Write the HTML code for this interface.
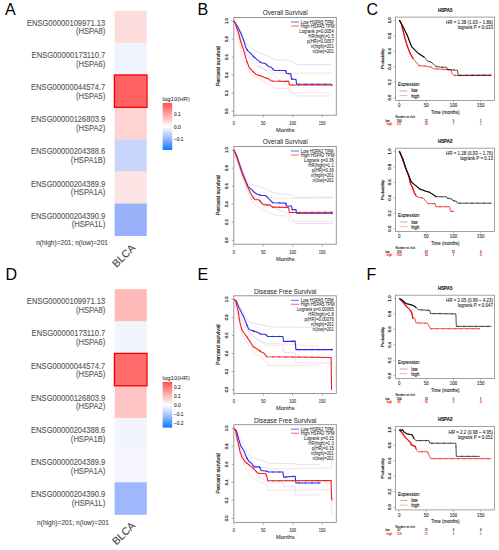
<!DOCTYPE html>
<html><head><meta charset="utf-8"><style>
html,body{margin:0;padding:0;background:#fff;width:499px;height:550px;overflow:hidden}
svg{display:block}
text{font-family:"Liberation Sans", sans-serif}
</style></head><body>
<svg width="499" height="550" viewBox="0 0 499 550">
<rect width="499" height="550" fill="#fff"/>
<text x="0" y="0" transform="translate(5.00,15.20) scale(0.1000,0.1)" font-size="160.00" fill="#000" text-anchor="start" font-weight="normal"  >A</text>
<text x="0" y="0" transform="translate(197.50,14.80) scale(0.1000,0.1)" font-size="160.00" fill="#000" text-anchor="start" font-weight="normal"  >B</text>
<text x="0" y="0" transform="translate(366.50,14.80) scale(0.1000,0.1)" font-size="160.00" fill="#000" text-anchor="start" font-weight="normal"  >C</text>
<text x="0" y="0" transform="translate(5.50,279.70) scale(0.1000,0.1)" font-size="160.00" fill="#000" text-anchor="start" font-weight="normal"  >D</text>
<text x="0" y="0" transform="translate(197.50,279.80) scale(0.1000,0.1)" font-size="160.00" fill="#000" text-anchor="start" font-weight="normal"  >E</text>
<text x="0" y="0" transform="translate(366.50,279.80) scale(0.1000,0.1)" font-size="160.00" fill="#000" text-anchor="start" font-weight="normal"  >F</text>
<rect x="114.6" y="10.80" width="32.20" height="32.44" fill="#fedcdc"/>
<rect x="114.6" y="42.94" width="32.20" height="32.44" fill="#eff3fe"/>
<rect x="114.6" y="75.08" width="32.20" height="32.44" fill="#ff6262"/>
<rect x="114.6" y="107.22" width="32.20" height="32.44" fill="#fdd3d3"/>
<rect x="114.6" y="139.36" width="32.20" height="32.44" fill="#c9d6fb"/>
<rect x="114.6" y="171.50" width="32.20" height="32.44" fill="#fde4e4"/>
<rect x="114.6" y="203.64" width="32.20" height="32.44" fill="#98b1f8"/>
<rect x="114.40" y="74.98" width="32.60" height="32.34" fill="none" stroke="#f00000" stroke-width="1.3"/>
<text x="0" y="0" transform="translate(105.30,25.87) scale(0.0927,0.1)" font-size="82.00" fill="#555" text-anchor="end" font-weight="normal" stroke="#555" stroke-width="1.000" >ENSG00000109971.13</text>
<text x="0" y="0" transform="translate(105.30,34.47) scale(0.0927,0.1)" font-size="82.00" fill="#555" text-anchor="end" font-weight="normal" stroke="#555" stroke-width="1.000" >(HSPA8)</text>
<text x="0" y="0" transform="translate(105.30,58.01) scale(0.0927,0.1)" font-size="82.00" fill="#555" text-anchor="end" font-weight="normal" stroke="#555" stroke-width="1.000" >ENSG00000173110.7</text>
<text x="0" y="0" transform="translate(105.30,66.61) scale(0.0927,0.1)" font-size="82.00" fill="#555" text-anchor="end" font-weight="normal" stroke="#555" stroke-width="1.000" >(HSPA6)</text>
<text x="0" y="0" transform="translate(105.30,90.15) scale(0.0927,0.1)" font-size="82.00" fill="#555" text-anchor="end" font-weight="normal" stroke="#555" stroke-width="1.000" >ENSG00000044574.7</text>
<text x="0" y="0" transform="translate(105.30,98.75) scale(0.0927,0.1)" font-size="82.00" fill="#555" text-anchor="end" font-weight="normal" stroke="#555" stroke-width="1.000" >(HSPA5)</text>
<text x="0" y="0" transform="translate(105.30,122.29) scale(0.0927,0.1)" font-size="82.00" fill="#555" text-anchor="end" font-weight="normal" stroke="#555" stroke-width="1.000" >ENSG00000126803.9</text>
<text x="0" y="0" transform="translate(105.30,130.89) scale(0.0927,0.1)" font-size="82.00" fill="#555" text-anchor="end" font-weight="normal" stroke="#555" stroke-width="1.000" >(HSPA2)</text>
<text x="0" y="0" transform="translate(105.30,154.43) scale(0.0927,0.1)" font-size="82.00" fill="#555" text-anchor="end" font-weight="normal" stroke="#555" stroke-width="1.000" >ENSG00000204388.6</text>
<text x="0" y="0" transform="translate(105.30,163.03) scale(0.0927,0.1)" font-size="82.00" fill="#555" text-anchor="end" font-weight="normal" stroke="#555" stroke-width="1.000" >(HSPA1B)</text>
<text x="0" y="0" transform="translate(105.30,186.57) scale(0.0927,0.1)" font-size="82.00" fill="#555" text-anchor="end" font-weight="normal" stroke="#555" stroke-width="1.000" >ENSG00000204389.9</text>
<text x="0" y="0" transform="translate(105.30,195.17) scale(0.0927,0.1)" font-size="82.00" fill="#555" text-anchor="end" font-weight="normal" stroke="#555" stroke-width="1.000" >(HSPA1A)</text>
<text x="0" y="0" transform="translate(105.30,218.71) scale(0.0927,0.1)" font-size="82.00" fill="#555" text-anchor="end" font-weight="normal" stroke="#555" stroke-width="1.000" >ENSG00000204390.9</text>
<text x="0" y="0" transform="translate(105.30,227.31) scale(0.0927,0.1)" font-size="82.00" fill="#555" text-anchor="end" font-weight="normal" stroke="#555" stroke-width="1.000" >(HSPA1L)</text>
<text x="0" y="0" transform="translate(108.00,245.40) scale(0.1000,0.1)" font-size="66.00" fill="#444" text-anchor="end" font-weight="normal" stroke="#444" stroke-width="0.800" >n(high)=201; n(low)=201</text>
<text x="0" y="0" font-size="105.00" fill="#444" stroke="#444" stroke-width="1.000" text-anchor="start" transform="translate(116.50,268.00) rotate(-45) scale(0.1)">BLCA</text>
<defs><linearGradient id="g10" x1="0" y1="0" x2="0" y2="1"><stop offset="0" stop-color="#ff5252"/><stop offset="0.25" stop-color="#ffa8a8"/><stop offset="0.5" stop-color="#ffffff"/><stop offset="0.75" stop-color="#9dbcff"/><stop offset="1" stop-color="#0a78ff"/></linearGradient></defs>
<rect x="162.6" y="102.90" width="9.6" height="47.10" fill="url(#g10)"/>
<text x="0" y="0" transform="translate(162.60,101.30) scale(0.1000,0.1)" font-size="60.00" fill="#333" text-anchor="start" font-weight="normal" stroke="#333" stroke-width="0.500" >log10(HR)</text>
<text x="0" y="0" transform="translate(174.00,115.90) scale(0.1000,0.1)" font-size="48.00" fill="#333" text-anchor="start" font-weight="normal" stroke="#333" stroke-width="1.000" >0.1</text>
<text x="0" y="0" transform="translate(174.00,128.90) scale(0.1000,0.1)" font-size="48.00" fill="#333" text-anchor="start" font-weight="normal" stroke="#333" stroke-width="1.000" >0.0</text>
<text x="0" y="0" transform="translate(174.00,140.70) scale(0.1000,0.1)" font-size="48.00" fill="#333" text-anchor="start" font-weight="normal" stroke="#333" stroke-width="1.000" >−0.1</text>
<rect x="114.6" y="289.10" width="32.20" height="32.50" fill="#ffbaba"/>
<rect x="114.6" y="321.30" width="32.20" height="32.50" fill="#f2f4fe"/>
<rect x="114.6" y="353.50" width="32.20" height="32.50" fill="#ff6a6a"/>
<rect x="114.6" y="385.70" width="32.20" height="32.50" fill="#ffc5c5"/>
<rect x="114.6" y="417.90" width="32.20" height="32.50" fill="#f2f4fe"/>
<rect x="114.6" y="450.10" width="32.20" height="32.50" fill="#f4f5fe"/>
<rect x="114.6" y="482.30" width="32.20" height="32.50" fill="#9fb7fc"/>
<rect x="114.40" y="353.40" width="32.60" height="32.40" fill="none" stroke="#f00000" stroke-width="1.3"/>
<text x="0" y="0" transform="translate(105.30,304.20) scale(0.0927,0.1)" font-size="82.00" fill="#555" text-anchor="end" font-weight="normal" stroke="#555" stroke-width="1.000" >ENSG00000109971.13</text>
<text x="0" y="0" transform="translate(105.30,312.80) scale(0.0927,0.1)" font-size="82.00" fill="#555" text-anchor="end" font-weight="normal" stroke="#555" stroke-width="1.000" >(HSPA8)</text>
<text x="0" y="0" transform="translate(105.30,336.40) scale(0.0927,0.1)" font-size="82.00" fill="#555" text-anchor="end" font-weight="normal" stroke="#555" stroke-width="1.000" >ENSG00000173110.7</text>
<text x="0" y="0" transform="translate(105.30,345.00) scale(0.0927,0.1)" font-size="82.00" fill="#555" text-anchor="end" font-weight="normal" stroke="#555" stroke-width="1.000" >(HSPA6)</text>
<text x="0" y="0" transform="translate(105.30,368.60) scale(0.0927,0.1)" font-size="82.00" fill="#555" text-anchor="end" font-weight="normal" stroke="#555" stroke-width="1.000" >ENSG00000044574.7</text>
<text x="0" y="0" transform="translate(105.30,377.20) scale(0.0927,0.1)" font-size="82.00" fill="#555" text-anchor="end" font-weight="normal" stroke="#555" stroke-width="1.000" >(HSPA5)</text>
<text x="0" y="0" transform="translate(105.30,400.80) scale(0.0927,0.1)" font-size="82.00" fill="#555" text-anchor="end" font-weight="normal" stroke="#555" stroke-width="1.000" >ENSG00000126803.9</text>
<text x="0" y="0" transform="translate(105.30,409.40) scale(0.0927,0.1)" font-size="82.00" fill="#555" text-anchor="end" font-weight="normal" stroke="#555" stroke-width="1.000" >(HSPA2)</text>
<text x="0" y="0" transform="translate(105.30,433.00) scale(0.0927,0.1)" font-size="82.00" fill="#555" text-anchor="end" font-weight="normal" stroke="#555" stroke-width="1.000" >ENSG00000204388.6</text>
<text x="0" y="0" transform="translate(105.30,441.60) scale(0.0927,0.1)" font-size="82.00" fill="#555" text-anchor="end" font-weight="normal" stroke="#555" stroke-width="1.000" >(HSPA1B)</text>
<text x="0" y="0" transform="translate(105.30,465.20) scale(0.0927,0.1)" font-size="82.00" fill="#555" text-anchor="end" font-weight="normal" stroke="#555" stroke-width="1.000" >ENSG00000204389.9</text>
<text x="0" y="0" transform="translate(105.30,473.80) scale(0.0927,0.1)" font-size="82.00" fill="#555" text-anchor="end" font-weight="normal" stroke="#555" stroke-width="1.000" >(HSPA1A)</text>
<text x="0" y="0" transform="translate(105.30,497.40) scale(0.0927,0.1)" font-size="82.00" fill="#555" text-anchor="end" font-weight="normal" stroke="#555" stroke-width="1.000" >ENSG00000204390.9</text>
<text x="0" y="0" transform="translate(105.30,506.00) scale(0.0927,0.1)" font-size="82.00" fill="#555" text-anchor="end" font-weight="normal" stroke="#555" stroke-width="1.000" >(HSPA1L)</text>
<text x="0" y="0" transform="translate(108.90,525.00) scale(0.1000,0.1)" font-size="66.00" fill="#444" text-anchor="end" font-weight="normal" stroke="#444" stroke-width="0.800" >n(high)=201; n(low)=201</text>
<text x="0" y="0" font-size="105.00" fill="#444" stroke="#444" stroke-width="1.000" text-anchor="start" transform="translate(116.50,545.60) rotate(-45) scale(0.1)">BLCA</text>
<defs><linearGradient id="g289" x1="0" y1="0" x2="0" y2="1"><stop offset="0" stop-color="#ff5252"/><stop offset="0.25" stop-color="#ffa8a8"/><stop offset="0.5" stop-color="#ffffff"/><stop offset="0.75" stop-color="#9dbcff"/><stop offset="1" stop-color="#0a78ff"/></linearGradient></defs>
<rect x="162.6" y="381.90" width="9.6" height="45.70" fill="url(#g289)"/>
<text x="0" y="0" transform="translate(162.60,380.30) scale(0.1000,0.1)" font-size="60.00" fill="#333" text-anchor="start" font-weight="normal" stroke="#333" stroke-width="0.500" >log10(HR)</text>
<text x="0" y="0" transform="translate(174.00,388.60) scale(0.1000,0.1)" font-size="48.00" fill="#333" text-anchor="start" font-weight="normal" stroke="#333" stroke-width="1.000" >0.2</text>
<text x="0" y="0" transform="translate(174.00,398.00) scale(0.1000,0.1)" font-size="48.00" fill="#333" text-anchor="start" font-weight="normal" stroke="#333" stroke-width="1.000" >0.1</text>
<text x="0" y="0" transform="translate(174.00,406.90) scale(0.1000,0.1)" font-size="48.00" fill="#333" text-anchor="start" font-weight="normal" stroke="#333" stroke-width="1.000" >0.0</text>
<text x="0" y="0" transform="translate(174.00,416.30) scale(0.1000,0.1)" font-size="48.00" fill="#333" text-anchor="start" font-weight="normal" stroke="#333" stroke-width="1.000" >−0.1</text>
<text x="0" y="0" transform="translate(174.00,425.20) scale(0.1000,0.1)" font-size="48.00" fill="#333" text-anchor="start" font-weight="normal" stroke="#333" stroke-width="1.000" >−0.2</text>
<rect x="233.8" y="17.50" width="102.50" height="97.70" fill="none" stroke="#8c8c8c" stroke-width="0.9"/>
<line x1="231.6" y1="111.20" x2="233.8" y2="111.20" stroke="#8c8c8c" stroke-width="0.7"/>
<text x="0" y="0" font-size="41.00" fill="#222" stroke="#222" stroke-width="1.800" text-anchor="middle" transform="translate(227.90,111.20) rotate(-90) scale(0.1)">0.0</text>
<line x1="231.6" y1="93.18" x2="233.8" y2="93.18" stroke="#8c8c8c" stroke-width="0.7"/>
<text x="0" y="0" font-size="41.00" fill="#222" stroke="#222" stroke-width="1.800" text-anchor="middle" transform="translate(227.90,93.18) rotate(-90) scale(0.1)">0.2</text>
<line x1="231.6" y1="75.16" x2="233.8" y2="75.16" stroke="#8c8c8c" stroke-width="0.7"/>
<text x="0" y="0" font-size="41.00" fill="#222" stroke="#222" stroke-width="1.800" text-anchor="middle" transform="translate(227.90,75.16) rotate(-90) scale(0.1)">0.4</text>
<line x1="231.6" y1="57.14" x2="233.8" y2="57.14" stroke="#8c8c8c" stroke-width="0.7"/>
<text x="0" y="0" font-size="41.00" fill="#222" stroke="#222" stroke-width="1.800" text-anchor="middle" transform="translate(227.90,57.14) rotate(-90) scale(0.1)">0.6</text>
<line x1="231.6" y1="39.12" x2="233.8" y2="39.12" stroke="#8c8c8c" stroke-width="0.7"/>
<text x="0" y="0" font-size="41.00" fill="#222" stroke="#222" stroke-width="1.800" text-anchor="middle" transform="translate(227.90,39.12) rotate(-90) scale(0.1)">0.8</text>
<line x1="231.6" y1="21.10" x2="233.8" y2="21.10" stroke="#8c8c8c" stroke-width="0.7"/>
<text x="0" y="0" font-size="41.00" fill="#222" stroke="#222" stroke-width="1.800" text-anchor="middle" transform="translate(227.90,21.10) rotate(-90) scale(0.1)">1.0</text>
<line x1="233.80" y1="115.20" x2="233.80" y2="117.40" stroke="#8c8c8c" stroke-width="0.7"/>
<text x="0" y="0" transform="translate(233.80,125.00) scale(0.0891,0.1)" font-size="46.00" fill="#333" text-anchor="middle" font-weight="normal" stroke="#333" stroke-width="0.800" >0</text>
<line x1="263.26" y1="115.20" x2="263.26" y2="117.40" stroke="#8c8c8c" stroke-width="0.7"/>
<text x="0" y="0" transform="translate(263.26,125.00) scale(0.0891,0.1)" font-size="46.00" fill="#333" text-anchor="middle" font-weight="normal" stroke="#333" stroke-width="0.800" >50</text>
<line x1="292.73" y1="115.20" x2="292.73" y2="117.40" stroke="#8c8c8c" stroke-width="0.7"/>
<text x="0" y="0" transform="translate(292.73,125.00) scale(0.0891,0.1)" font-size="46.00" fill="#333" text-anchor="middle" font-weight="normal" stroke="#333" stroke-width="0.800" >100</text>
<line x1="322.20" y1="115.20" x2="322.20" y2="117.40" stroke="#8c8c8c" stroke-width="0.7"/>
<text x="0" y="0" transform="translate(322.20,125.00) scale(0.0891,0.1)" font-size="46.00" fill="#333" text-anchor="middle" font-weight="normal" stroke="#333" stroke-width="0.800" >150</text>
<text x="0" y="0" transform="translate(285.30,131.80) scale(0.1000,0.1)" font-size="57.00" fill="#222" text-anchor="middle" font-weight="normal" stroke="#222" stroke-width="0.500" >Months</text>
<text x="0" y="0" font-size="57.00" fill="#111" stroke="#111" stroke-width="1.600" text-anchor="middle" transform="translate(220.40,66.35) rotate(-90) scale(0.1)">Percent survival</text>
<text x="0" y="0" transform="translate(285.20,15.30) scale(0.1000,0.1)" font-size="64.00" fill="#222" text-anchor="middle" font-weight="normal"  >Overall Survival</text>
<line x1="291" y1="22.00" x2="299" y2="22.00" stroke="#3c3cff" stroke-width="0.8"/>
<line x1="291" y1="26.00" x2="299" y2="26.00" stroke="#ff3c3c" stroke-width="0.8"/>
<text x="0" y="0" transform="translate(300.80,23.50) scale(0.0890,0.1)" font-size="48.00" fill="#111" text-anchor="start" font-weight="normal" stroke="#111" stroke-width="0.300" >Low HSPA5 TPM</text>
<text x="0" y="0" transform="translate(300.80,27.50) scale(0.0890,0.1)" font-size="48.00" fill="#111" text-anchor="start" font-weight="normal" stroke="#111" stroke-width="0.300" >High HSPA5 TPM</text>
<text x="0" y="0" transform="translate(333.80,33.00) scale(0.0890,0.1)" font-size="48.00" fill="#111" text-anchor="end" font-weight="normal" stroke="#111" stroke-width="0.300" >Logrank p=0.0054</text>
<text x="0" y="0" transform="translate(333.80,38.00) scale(0.0890,0.1)" font-size="48.00" fill="#111" text-anchor="end" font-weight="normal" stroke="#111" stroke-width="0.300" >HR(high)=1.5</text>
<text x="0" y="0" transform="translate(333.80,43.00) scale(0.0890,0.1)" font-size="48.00" fill="#111" text-anchor="end" font-weight="normal" stroke="#111" stroke-width="0.300" >p(HR)=0.0057</text>
<text x="0" y="0" transform="translate(333.80,48.00) scale(0.0890,0.1)" font-size="48.00" fill="#111" text-anchor="end" font-weight="normal" stroke="#111" stroke-width="0.300" >n(high)=201</text>
<text x="0" y="0" transform="translate(333.80,53.00) scale(0.0890,0.1)" font-size="48.00" fill="#111" text-anchor="end" font-weight="normal" stroke="#111" stroke-width="0.300" >n(low)=201</text>
<polyline points="233.75,20.64 239.27,27.18 243.64,37.36 246.55,44.64 253.82,49.73 261.09,53.36 268.36,56.27 275.64,59.91 287.18,60.27 293.00,61.73 296.64,64.64 330.82,64.64" fill="none" stroke="#ccccff" stroke-width="0.6" stroke-linejoin="miter" />
<polyline points="233.75,20.64 237.09,29.36 242.18,46.09 246.55,54.82 253.82,60.64 261.09,67.18 268.36,72.27 274.18,75.18 288.64,86.45 291.55,90.82 296.64,95.91 331.55,95.91" fill="none" stroke="#ccccff" stroke-width="0.6" stroke-linejoin="miter" />
<polyline points="233.75,20.64 237.82,28.64 242.18,43.18 246.55,54.82 250.91,60.64 255.27,65.73 261.09,67.91 268.36,70.09 275.64,73.00 291.55,73.07 331.55,73.07" fill="none" stroke="#ffcaca" stroke-width="0.6" stroke-linejoin="miter" />
<polyline points="233.75,20.64 237.82,35.91 242.18,56.27 246.55,66.45 252.36,75.18 261.09,79.55 268.36,83.91 275.64,88.27 288.64,88.64 289.36,93.00 331.55,93.00" fill="none" stroke="#ffcaca" stroke-width="0.6" stroke-linejoin="miter" />
<polyline points="233.75,20.64 237.82,27.18 240.73,33.00 243.64,40.27 245.82,47.55 248.00,51.18 250.91,53.36 253.82,57.00 257.45,59.91 261.09,62.82 265.45,63.55 268.36,66.45 271.27,67.18 274.18,70.53 285.73,70.45 286.45,73.36 290.82,74.09 291.55,79.18 295.91,79.18 296.64,84.27 331.55,84.27" fill="none" stroke="#2a2af0" stroke-width="1.1" stroke-linejoin="miter" />
<path d="M247.00 48.72v1.60 M246.20 49.52h1.60 M253.50 55.80v1.60 M252.70 56.60h1.60 M260.00 61.15v1.60 M259.20 61.95h1.60 M266.50 63.79v1.60 M265.70 64.59h1.60 M273.00 68.37v1.60 M272.20 69.17h1.60 M279.50 69.69v1.60 M278.70 70.49h1.60 M286.00 70.75v1.60 M285.20 71.55h1.60 M292.50 78.38v1.60 M291.70 79.18h1.60 M299.00 83.47v1.60 M298.20 84.27h1.60 M305.50 83.47v1.60 M304.70 84.27h1.60 M312.00 83.47v1.60 M311.20 84.27h1.60 M318.50 83.47v1.60 M317.70 84.27h1.60 M325.00 83.47v1.60 M324.20 84.27h1.60" stroke="#2a2af0" stroke-width="0.5" fill="none"/>
<polyline points="233.75,20.64 235.64,24.27 238.55,33.00 240.73,41.73 243.64,50.45 246.55,60.64 249.45,67.91 253.09,71.55 256.00,74.45 261.09,75.91 264.00,77.36 268.36,78.82 271.27,81.00 288.64,81.36 289.36,85.00 333.00,85.00" fill="none" stroke="#f02020" stroke-width="1.1" stroke-linejoin="miter" />
<path d="M247.00 60.97v1.60 M246.20 61.77h1.60 M253.50 71.15v1.60 M252.70 71.95h1.60 M260.00 74.80v1.60 M259.20 75.60h1.60 M266.50 77.40v1.60 M265.70 78.20h1.60 M273.00 80.24v1.60 M272.20 81.04h1.60 M279.50 80.37v1.60 M278.70 81.17h1.60 M286.00 80.51v1.60 M285.20 81.31h1.60 M292.50 84.20v1.60 M291.70 85.00h1.60 M299.00 84.20v1.60 M298.20 85.00h1.60 M305.50 84.20v1.60 M304.70 85.00h1.60 M312.00 84.20v1.60 M311.20 85.00h1.60 M318.50 84.20v1.60 M317.70 85.00h1.60 M325.00 84.20v1.60 M324.20 85.00h1.60 M331.50 84.20v1.60 M330.70 85.00h1.60" stroke="#f02020" stroke-width="0.5" fill="none"/>
<rect x="233.8" y="146.50" width="102.50" height="97.70" fill="none" stroke="#8c8c8c" stroke-width="0.9"/>
<line x1="231.6" y1="240.20" x2="233.8" y2="240.20" stroke="#8c8c8c" stroke-width="0.7"/>
<text x="0" y="0" font-size="41.00" fill="#222" stroke="#222" stroke-width="1.800" text-anchor="middle" transform="translate(227.90,240.20) rotate(-90) scale(0.1)">0.0</text>
<line x1="231.6" y1="222.18" x2="233.8" y2="222.18" stroke="#8c8c8c" stroke-width="0.7"/>
<text x="0" y="0" font-size="41.00" fill="#222" stroke="#222" stroke-width="1.800" text-anchor="middle" transform="translate(227.90,222.18) rotate(-90) scale(0.1)">0.2</text>
<line x1="231.6" y1="204.16" x2="233.8" y2="204.16" stroke="#8c8c8c" stroke-width="0.7"/>
<text x="0" y="0" font-size="41.00" fill="#222" stroke="#222" stroke-width="1.800" text-anchor="middle" transform="translate(227.90,204.16) rotate(-90) scale(0.1)">0.4</text>
<line x1="231.6" y1="186.14" x2="233.8" y2="186.14" stroke="#8c8c8c" stroke-width="0.7"/>
<text x="0" y="0" font-size="41.00" fill="#222" stroke="#222" stroke-width="1.800" text-anchor="middle" transform="translate(227.90,186.14) rotate(-90) scale(0.1)">0.6</text>
<line x1="231.6" y1="168.12" x2="233.8" y2="168.12" stroke="#8c8c8c" stroke-width="0.7"/>
<text x="0" y="0" font-size="41.00" fill="#222" stroke="#222" stroke-width="1.800" text-anchor="middle" transform="translate(227.90,168.12) rotate(-90) scale(0.1)">0.8</text>
<line x1="231.6" y1="150.10" x2="233.8" y2="150.10" stroke="#8c8c8c" stroke-width="0.7"/>
<text x="0" y="0" font-size="41.00" fill="#222" stroke="#222" stroke-width="1.800" text-anchor="middle" transform="translate(227.90,150.10) rotate(-90) scale(0.1)">1.0</text>
<line x1="233.80" y1="244.20" x2="233.80" y2="246.40" stroke="#8c8c8c" stroke-width="0.7"/>
<text x="0" y="0" transform="translate(233.80,254.00) scale(0.0891,0.1)" font-size="46.00" fill="#333" text-anchor="middle" font-weight="normal" stroke="#333" stroke-width="0.800" >0</text>
<line x1="263.26" y1="244.20" x2="263.26" y2="246.40" stroke="#8c8c8c" stroke-width="0.7"/>
<text x="0" y="0" transform="translate(263.26,254.00) scale(0.0891,0.1)" font-size="46.00" fill="#333" text-anchor="middle" font-weight="normal" stroke="#333" stroke-width="0.800" >50</text>
<line x1="292.73" y1="244.20" x2="292.73" y2="246.40" stroke="#8c8c8c" stroke-width="0.7"/>
<text x="0" y="0" transform="translate(292.73,254.00) scale(0.0891,0.1)" font-size="46.00" fill="#333" text-anchor="middle" font-weight="normal" stroke="#333" stroke-width="0.800" >100</text>
<line x1="322.20" y1="244.20" x2="322.20" y2="246.40" stroke="#8c8c8c" stroke-width="0.7"/>
<text x="0" y="0" transform="translate(322.20,254.00) scale(0.0891,0.1)" font-size="46.00" fill="#333" text-anchor="middle" font-weight="normal" stroke="#333" stroke-width="0.800" >150</text>
<text x="0" y="0" transform="translate(285.30,260.80) scale(0.1000,0.1)" font-size="57.00" fill="#222" text-anchor="middle" font-weight="normal" stroke="#222" stroke-width="0.500" >Months</text>
<text x="0" y="0" font-size="57.00" fill="#111" stroke="#111" stroke-width="1.600" text-anchor="middle" transform="translate(220.40,195.35) rotate(-90) scale(0.1)">Percent survival</text>
<text x="0" y="0" transform="translate(285.20,144.30) scale(0.1000,0.1)" font-size="64.00" fill="#222" text-anchor="middle" font-weight="normal"  >Overall Survival</text>
<line x1="291" y1="151.00" x2="299" y2="151.00" stroke="#3c3cff" stroke-width="0.8"/>
<line x1="291" y1="155.00" x2="299" y2="155.00" stroke="#ff3c3c" stroke-width="0.8"/>
<text x="0" y="0" transform="translate(300.80,152.50) scale(0.0890,0.1)" font-size="48.00" fill="#111" text-anchor="start" font-weight="normal" stroke="#111" stroke-width="0.300" >Low HSPA2 TPM</text>
<text x="0" y="0" transform="translate(300.80,156.50) scale(0.0890,0.1)" font-size="48.00" fill="#111" text-anchor="start" font-weight="normal" stroke="#111" stroke-width="0.300" >High HSPA2 TPM</text>
<text x="0" y="0" transform="translate(333.80,162.00) scale(0.0890,0.1)" font-size="48.00" fill="#111" text-anchor="end" font-weight="normal" stroke="#111" stroke-width="0.300" >Logrank p=0.36</text>
<text x="0" y="0" transform="translate(333.80,167.00) scale(0.0890,0.1)" font-size="48.00" fill="#111" text-anchor="end" font-weight="normal" stroke="#111" stroke-width="0.300" >HR(high)=1.1</text>
<text x="0" y="0" transform="translate(333.80,172.00) scale(0.0890,0.1)" font-size="48.00" fill="#111" text-anchor="end" font-weight="normal" stroke="#111" stroke-width="0.300" >p(HR)=0.36</text>
<text x="0" y="0" transform="translate(333.80,177.00) scale(0.0890,0.1)" font-size="48.00" fill="#111" text-anchor="end" font-weight="normal" stroke="#111" stroke-width="0.300" >n(high)=201</text>
<text x="0" y="0" transform="translate(333.80,182.00) scale(0.0890,0.1)" font-size="48.00" fill="#111" text-anchor="end" font-weight="normal" stroke="#111" stroke-width="0.300" >n(low)=201</text>
<polyline points="233.75,149.64 237.82,157.64 242.18,169.27 246.55,179.45 250.91,183.82 256.73,186.00 264.00,188.18 272.73,192.55 282.91,194.00 288.64,194.36 295.91,197.27 333.00,197.27" fill="none" stroke="#ccccff" stroke-width="0.6" stroke-linejoin="miter" />
<polyline points="233.75,149.64 237.82,162.00 243.64,178.00 248.00,189.64 253.82,196.91 261.09,201.27 268.36,205.64 275.64,208.55 288.64,214.00 295.91,223.45 333.00,223.45" fill="none" stroke="#ccccff" stroke-width="0.6" stroke-linejoin="miter" />
<polyline points="233.75,149.64 237.82,159.09 243.64,175.09 248.00,185.27 253.82,192.55 261.09,195.45 268.36,196.91 275.64,198.36 333.00,198.00" fill="none" stroke="#ffcaca" stroke-width="0.6" stroke-linejoin="miter" />
<polyline points="233.75,149.64 237.82,163.45 243.64,182.36 248.00,192.55 253.82,204.18 261.09,208.55 268.36,212.91 275.64,215.09 288.64,216.18 289.36,221.27 333.00,221.27" fill="none" stroke="#ffcaca" stroke-width="0.6" stroke-linejoin="miter" />
<polyline points="233.75,149.64 236.36,154.73 239.27,163.45 242.18,172.18 245.09,179.45 248.00,186.73 250.91,188.91 253.82,191.82 256.73,194.00 261.09,195.45 265.45,195.45 268.36,198.36 272.73,202.73 285.73,203.09 286.45,206.00 291.55,206.00 292.27,209.64 295.91,209.64 296.64,213.27 333.00,213.27" fill="none" stroke="#2a2af0" stroke-width="1.1" stroke-linejoin="miter" />
<path d="M247.00 183.43v1.60 M246.20 184.23h1.60 M253.50 190.70v1.60 M252.70 191.50h1.60 M260.00 194.29v1.60 M259.20 195.09h1.60 M266.50 195.70v1.60 M265.70 196.50h1.60 M273.00 201.93v1.60 M272.20 202.73h1.60 M279.50 202.12v1.60 M278.70 202.92h1.60 M286.00 203.38v1.60 M285.20 204.18h1.60 M292.50 208.84v1.60 M291.70 209.64h1.60 M299.00 212.47v1.60 M298.20 213.27h1.60 M305.50 212.47v1.60 M304.70 213.27h1.60 M312.00 212.47v1.60 M311.20 213.27h1.60 M318.50 212.47v1.60 M317.70 213.27h1.60 M325.00 212.47v1.60 M324.20 213.27h1.60 M331.50 212.47v1.60 M330.70 213.27h1.60" stroke="#2a2af0" stroke-width="0.5" fill="none"/>
<polyline points="233.75,149.64 236.36,156.18 239.27,164.91 242.18,173.64 245.09,180.91 248.00,187.45 250.91,194.00 253.82,198.36 255.27,199.82 258.91,199.82 262.55,204.18 265.45,204.91 269.82,204.91 272.73,207.09 288.64,207.45 289.36,212.55 333.00,212.25" fill="none" stroke="#f02020" stroke-width="1.1" stroke-linejoin="miter" />
<path d="M247.00 184.40v1.60 M246.20 185.20h1.60 M253.50 197.09v1.60 M252.70 197.89h1.60 M260.00 200.33v1.60 M259.20 201.13h1.60 M266.50 204.11v1.60 M265.70 204.91h1.60 M273.00 206.30v1.60 M272.20 207.10h1.60 M279.50 206.45v1.60 M278.70 207.25h1.60 M286.00 206.59v1.60 M285.20 207.39h1.60 M292.50 211.72v1.60 M291.70 212.52h1.60 M299.00 211.68v1.60 M298.20 212.48h1.60 M305.50 211.64v1.60 M304.70 212.44h1.60 M312.00 211.59v1.60 M311.20 212.39h1.60 M318.50 211.55v1.60 M317.70 212.35h1.60 M325.00 211.51v1.60 M324.20 212.31h1.60 M331.50 211.46v1.60 M330.70 212.26h1.60" stroke="#f02020" stroke-width="0.5" fill="none"/>
<rect x="233.8" y="295.80" width="102.50" height="97.70" fill="none" stroke="#8c8c8c" stroke-width="0.9"/>
<line x1="231.6" y1="389.50" x2="233.8" y2="389.50" stroke="#8c8c8c" stroke-width="0.7"/>
<text x="0" y="0" font-size="41.00" fill="#222" stroke="#222" stroke-width="1.800" text-anchor="middle" transform="translate(227.90,389.50) rotate(-90) scale(0.1)">0.0</text>
<line x1="231.6" y1="371.48" x2="233.8" y2="371.48" stroke="#8c8c8c" stroke-width="0.7"/>
<text x="0" y="0" font-size="41.00" fill="#222" stroke="#222" stroke-width="1.800" text-anchor="middle" transform="translate(227.90,371.48) rotate(-90) scale(0.1)">0.2</text>
<line x1="231.6" y1="353.46" x2="233.8" y2="353.46" stroke="#8c8c8c" stroke-width="0.7"/>
<text x="0" y="0" font-size="41.00" fill="#222" stroke="#222" stroke-width="1.800" text-anchor="middle" transform="translate(227.90,353.46) rotate(-90) scale(0.1)">0.4</text>
<line x1="231.6" y1="335.44" x2="233.8" y2="335.44" stroke="#8c8c8c" stroke-width="0.7"/>
<text x="0" y="0" font-size="41.00" fill="#222" stroke="#222" stroke-width="1.800" text-anchor="middle" transform="translate(227.90,335.44) rotate(-90) scale(0.1)">0.6</text>
<line x1="231.6" y1="317.42" x2="233.8" y2="317.42" stroke="#8c8c8c" stroke-width="0.7"/>
<text x="0" y="0" font-size="41.00" fill="#222" stroke="#222" stroke-width="1.800" text-anchor="middle" transform="translate(227.90,317.42) rotate(-90) scale(0.1)">0.8</text>
<line x1="231.6" y1="299.40" x2="233.8" y2="299.40" stroke="#8c8c8c" stroke-width="0.7"/>
<text x="0" y="0" font-size="41.00" fill="#222" stroke="#222" stroke-width="1.800" text-anchor="middle" transform="translate(227.90,299.40) rotate(-90) scale(0.1)">1.0</text>
<line x1="233.80" y1="393.50" x2="233.80" y2="395.70" stroke="#8c8c8c" stroke-width="0.7"/>
<text x="0" y="0" transform="translate(233.80,403.30) scale(0.0891,0.1)" font-size="46.00" fill="#333" text-anchor="middle" font-weight="normal" stroke="#333" stroke-width="0.800" >0</text>
<line x1="263.26" y1="393.50" x2="263.26" y2="395.70" stroke="#8c8c8c" stroke-width="0.7"/>
<text x="0" y="0" transform="translate(263.26,403.30) scale(0.0891,0.1)" font-size="46.00" fill="#333" text-anchor="middle" font-weight="normal" stroke="#333" stroke-width="0.800" >50</text>
<line x1="292.73" y1="393.50" x2="292.73" y2="395.70" stroke="#8c8c8c" stroke-width="0.7"/>
<text x="0" y="0" transform="translate(292.73,403.30) scale(0.0891,0.1)" font-size="46.00" fill="#333" text-anchor="middle" font-weight="normal" stroke="#333" stroke-width="0.800" >100</text>
<line x1="322.20" y1="393.50" x2="322.20" y2="395.70" stroke="#8c8c8c" stroke-width="0.7"/>
<text x="0" y="0" transform="translate(322.20,403.30) scale(0.0891,0.1)" font-size="46.00" fill="#333" text-anchor="middle" font-weight="normal" stroke="#333" stroke-width="0.800" >150</text>
<text x="0" y="0" transform="translate(285.30,410.10) scale(0.1000,0.1)" font-size="57.00" fill="#222" text-anchor="middle" font-weight="normal" stroke="#222" stroke-width="0.500" >Months</text>
<text x="0" y="0" font-size="57.00" fill="#111" stroke="#111" stroke-width="1.600" text-anchor="middle" transform="translate(220.40,344.65) rotate(-90) scale(0.1)">Percent survival</text>
<text x="0" y="0" transform="translate(285.20,293.60) scale(0.1000,0.1)" font-size="64.00" fill="#222" text-anchor="middle" font-weight="normal"  >Disease Free Survival</text>
<line x1="291" y1="300.30" x2="299" y2="300.30" stroke="#3c3cff" stroke-width="0.8"/>
<line x1="291" y1="304.30" x2="299" y2="304.30" stroke="#ff3c3c" stroke-width="0.8"/>
<text x="0" y="0" transform="translate(300.80,301.80) scale(0.0890,0.1)" font-size="48.00" fill="#111" text-anchor="start" font-weight="normal" stroke="#111" stroke-width="0.300" >Low HSPA5 TPM</text>
<text x="0" y="0" transform="translate(300.80,305.80) scale(0.0890,0.1)" font-size="48.00" fill="#111" text-anchor="start" font-weight="normal" stroke="#111" stroke-width="0.300" >High HSPA5 TPM</text>
<text x="0" y="0" transform="translate(333.80,311.30) scale(0.0890,0.1)" font-size="48.00" fill="#111" text-anchor="end" font-weight="normal" stroke="#111" stroke-width="0.300" >Logrank p=0.00065</text>
<text x="0" y="0" transform="translate(333.80,316.30) scale(0.0890,0.1)" font-size="48.00" fill="#111" text-anchor="end" font-weight="normal" stroke="#111" stroke-width="0.300" >HR(high)=1.8</text>
<text x="0" y="0" transform="translate(333.80,321.30) scale(0.0890,0.1)" font-size="48.00" fill="#111" text-anchor="end" font-weight="normal" stroke="#111" stroke-width="0.300" >p(HR)=0.00076</text>
<text x="0" y="0" transform="translate(333.80,326.30) scale(0.0890,0.1)" font-size="48.00" fill="#111" text-anchor="end" font-weight="normal" stroke="#111" stroke-width="0.300" >n(high)=201</text>
<text x="0" y="0" transform="translate(333.80,331.30) scale(0.0890,0.1)" font-size="48.00" fill="#111" text-anchor="end" font-weight="normal" stroke="#111" stroke-width="0.300" >n(low)=201</text>
<polyline points="233.75,299.36 239.27,305.18 243.64,313.91 248.00,321.18 253.82,323.36 261.09,324.82 268.36,326.27 275.64,327.00 314.82,327.36" fill="none" stroke="#ccccff" stroke-width="0.6" stroke-linejoin="miter" />
<polyline points="233.75,299.36 239.27,312.45 245.09,327.00 250.91,334.27 261.09,341.55 266.91,345.18 282.91,345.18 283.64,352.45 295.18,352.82 295.91,363.00 333.00,363.00" fill="none" stroke="#ccccff" stroke-width="0.6" stroke-linejoin="miter" />
<polyline points="233.75,299.36 237.82,308.09 242.18,321.18 246.55,328.45 253.82,337.18 261.09,341.55 266.91,343.00 319.18,346.27" fill="none" stroke="#ffcaca" stroke-width="0.6" stroke-linejoin="miter" />
<polyline points="233.75,299.36 237.82,316.82 242.18,334.27 246.55,341.55 253.82,353.18 261.09,357.55 266.91,361.91 267.64,365.55 319.18,365.18" fill="none" stroke="#ffcaca" stroke-width="0.6" stroke-linejoin="miter" />
<polyline points="233.75,299.36 236.36,300.82 238.55,306.64 240.73,311.00 243.64,316.82 246.55,324.09 248.73,329.18 252.36,330.64 256.73,332.09 261.09,334.27 265.45,334.27 267.64,336.45 282.91,336.45 283.64,341.55 295.18,341.18 295.91,349.62 333.00,349.62" fill="none" stroke="#2a2af0" stroke-width="1.1" stroke-linejoin="miter" />
<path d="M247.00 324.35v1.60 M246.20 325.15h1.60 M253.50 330.22v1.60 M252.70 331.02h1.60 M260.00 332.93v1.60 M259.20 333.73h1.60 M266.50 334.52v1.60 M265.70 335.32h1.60 M273.00 335.65v1.60 M272.20 336.45h1.60 M279.50 335.65v1.60 M278.70 336.45h1.60 M286.00 340.67v1.60 M285.20 341.47h1.60 M292.50 340.47v1.60 M291.70 341.27h1.60 M299.00 348.82v1.60 M298.20 349.62h1.60 M305.50 348.82v1.60 M304.70 349.62h1.60 M312.00 348.82v1.60 M311.20 349.62h1.60 M318.50 348.82v1.60 M317.70 349.62h1.60 M325.00 348.82v1.60 M324.20 349.62h1.60 M331.50 348.82v1.60 M330.70 349.62h1.60" stroke="#2a2af0" stroke-width="0.5" fill="none"/>
<polyline points="233.75,299.36 235.64,300.82 237.82,309.55 240.00,322.64 242.18,330.64 245.09,334.27 248.00,338.64 250.91,343.00 253.09,346.64 256.73,348.82 261.09,351.73 264.00,353.18 266.91,356.82 331.11,357.47 331.55,389.91" fill="none" stroke="#f02020" stroke-width="1.1" stroke-linejoin="miter" />
<path d="M247.00 336.34v1.60 M246.20 337.14h1.60 M253.50 346.08v1.60 M252.70 346.88h1.60 M260.00 350.20v1.60 M259.20 351.00h1.60 M266.50 355.51v1.60 M265.70 356.31h1.60 M273.00 356.08v1.60 M272.20 356.88h1.60 M279.50 356.15v1.60 M278.70 356.95h1.60 M286.00 356.21v1.60 M285.20 357.01h1.60 M292.50 356.28v1.60 M291.70 357.08h1.60 M299.00 356.35v1.60 M298.20 357.15h1.60 M305.50 356.41v1.60 M304.70 357.21h1.60 M312.00 356.48v1.60 M311.20 357.28h1.60 M318.50 356.54v1.60 M317.70 357.34h1.60 M325.00 356.61v1.60 M324.20 357.41h1.60" stroke="#f02020" stroke-width="0.5" fill="none"/>
<rect x="233.8" y="424.70" width="102.50" height="97.70" fill="none" stroke="#8c8c8c" stroke-width="0.9"/>
<line x1="231.6" y1="518.40" x2="233.8" y2="518.40" stroke="#8c8c8c" stroke-width="0.7"/>
<text x="0" y="0" font-size="41.00" fill="#222" stroke="#222" stroke-width="1.800" text-anchor="middle" transform="translate(227.90,518.40) rotate(-90) scale(0.1)">0.0</text>
<line x1="231.6" y1="500.38" x2="233.8" y2="500.38" stroke="#8c8c8c" stroke-width="0.7"/>
<text x="0" y="0" font-size="41.00" fill="#222" stroke="#222" stroke-width="1.800" text-anchor="middle" transform="translate(227.90,500.38) rotate(-90) scale(0.1)">0.2</text>
<line x1="231.6" y1="482.36" x2="233.8" y2="482.36" stroke="#8c8c8c" stroke-width="0.7"/>
<text x="0" y="0" font-size="41.00" fill="#222" stroke="#222" stroke-width="1.800" text-anchor="middle" transform="translate(227.90,482.36) rotate(-90) scale(0.1)">0.4</text>
<line x1="231.6" y1="464.34" x2="233.8" y2="464.34" stroke="#8c8c8c" stroke-width="0.7"/>
<text x="0" y="0" font-size="41.00" fill="#222" stroke="#222" stroke-width="1.800" text-anchor="middle" transform="translate(227.90,464.34) rotate(-90) scale(0.1)">0.6</text>
<line x1="231.6" y1="446.32" x2="233.8" y2="446.32" stroke="#8c8c8c" stroke-width="0.7"/>
<text x="0" y="0" font-size="41.00" fill="#222" stroke="#222" stroke-width="1.800" text-anchor="middle" transform="translate(227.90,446.32) rotate(-90) scale(0.1)">0.8</text>
<line x1="231.6" y1="428.30" x2="233.8" y2="428.30" stroke="#8c8c8c" stroke-width="0.7"/>
<text x="0" y="0" font-size="41.00" fill="#222" stroke="#222" stroke-width="1.800" text-anchor="middle" transform="translate(227.90,428.30) rotate(-90) scale(0.1)">1.0</text>
<line x1="233.80" y1="522.40" x2="233.80" y2="524.60" stroke="#8c8c8c" stroke-width="0.7"/>
<text x="0" y="0" transform="translate(233.80,532.20) scale(0.0891,0.1)" font-size="46.00" fill="#333" text-anchor="middle" font-weight="normal" stroke="#333" stroke-width="0.800" >0</text>
<line x1="263.26" y1="522.40" x2="263.26" y2="524.60" stroke="#8c8c8c" stroke-width="0.7"/>
<text x="0" y="0" transform="translate(263.26,532.20) scale(0.0891,0.1)" font-size="46.00" fill="#333" text-anchor="middle" font-weight="normal" stroke="#333" stroke-width="0.800" >50</text>
<line x1="292.73" y1="522.40" x2="292.73" y2="524.60" stroke="#8c8c8c" stroke-width="0.7"/>
<text x="0" y="0" transform="translate(292.73,532.20) scale(0.0891,0.1)" font-size="46.00" fill="#333" text-anchor="middle" font-weight="normal" stroke="#333" stroke-width="0.800" >100</text>
<line x1="322.20" y1="522.40" x2="322.20" y2="524.60" stroke="#8c8c8c" stroke-width="0.7"/>
<text x="0" y="0" transform="translate(322.20,532.20) scale(0.0891,0.1)" font-size="46.00" fill="#333" text-anchor="middle" font-weight="normal" stroke="#333" stroke-width="0.800" >150</text>
<text x="0" y="0" transform="translate(285.30,539.00) scale(0.1000,0.1)" font-size="57.00" fill="#222" text-anchor="middle" font-weight="normal" stroke="#222" stroke-width="0.500" >Months</text>
<text x="0" y="0" font-size="57.00" fill="#111" stroke="#111" stroke-width="1.600" text-anchor="middle" transform="translate(220.40,473.55) rotate(-90) scale(0.1)">Percent survival</text>
<text x="0" y="0" transform="translate(285.20,422.50) scale(0.1000,0.1)" font-size="64.00" fill="#222" text-anchor="middle" font-weight="normal"  >Disease Free Survival</text>
<line x1="291" y1="429.20" x2="299" y2="429.20" stroke="#3c3cff" stroke-width="0.8"/>
<line x1="291" y1="433.20" x2="299" y2="433.20" stroke="#ff3c3c" stroke-width="0.8"/>
<text x="0" y="0" transform="translate(300.80,430.70) scale(0.0890,0.1)" font-size="48.00" fill="#111" text-anchor="start" font-weight="normal" stroke="#111" stroke-width="0.300" >Low HSPA2 TPM</text>
<text x="0" y="0" transform="translate(300.80,434.70) scale(0.0890,0.1)" font-size="48.00" fill="#111" text-anchor="start" font-weight="normal" stroke="#111" stroke-width="0.300" >High HSPA2 TPM</text>
<text x="0" y="0" transform="translate(333.80,440.20) scale(0.0890,0.1)" font-size="48.00" fill="#111" text-anchor="end" font-weight="normal" stroke="#111" stroke-width="0.300" >Logrank p=0.15</text>
<text x="0" y="0" transform="translate(333.80,445.20) scale(0.0890,0.1)" font-size="48.00" fill="#111" text-anchor="end" font-weight="normal" stroke="#111" stroke-width="0.300" >HR(high)=1.3</text>
<text x="0" y="0" transform="translate(333.80,450.20) scale(0.0890,0.1)" font-size="48.00" fill="#111" text-anchor="end" font-weight="normal" stroke="#111" stroke-width="0.300" >p(HR)=0.15</text>
<text x="0" y="0" transform="translate(333.80,455.20) scale(0.0890,0.1)" font-size="48.00" fill="#111" text-anchor="end" font-weight="normal" stroke="#111" stroke-width="0.300" >n(high)=201</text>
<text x="0" y="0" transform="translate(333.80,460.20) scale(0.0890,0.1)" font-size="48.00" fill="#111" text-anchor="end" font-weight="normal" stroke="#111" stroke-width="0.300" >n(low)=201</text>
<polyline points="233.75,428.36 239.27,437.09 243.64,445.82 248.00,453.09 252.36,457.45 261.09,460.36 268.36,463.27 294.45,463.64 295.18,464.36 319.91,464.36" fill="none" stroke="#ccccff" stroke-width="0.6" stroke-linejoin="miter" />
<polyline points="233.75,428.36 239.27,445.82 243.64,457.45 249.45,467.64 258.18,476.36 261.09,477.82 266.91,482.18 282.91,482.18 283.64,486.55 295.18,486.18 295.18,494.91 319.91,494.91" fill="none" stroke="#ccccff" stroke-width="0.6" stroke-linejoin="miter" />
<polyline points="233.75,428.36 237.82,438.55 242.18,453.09 246.55,460.36 252.36,464.73 261.09,467.64 266.91,467.64 268.36,469.09 331.55,468.00 331.55,458.55" fill="none" stroke="#ffcaca" stroke-width="0.6" stroke-linejoin="miter" />
<polyline points="233.75,428.36 237.82,444.36 242.18,460.36 246.55,470.55 252.36,477.82 258.18,481.45 266.91,485.09 267.64,490.18 331.55,489.82 331.55,515.27" fill="none" stroke="#ffcaca" stroke-width="0.6" stroke-linejoin="miter" />
<polyline points="233.75,428.36 236.36,430.55 238.55,438.55 240.73,445.82 243.64,450.18 246.55,457.45 248.73,461.09 251.64,463.27 253.82,466.91 259.64,466.91 261.09,470.55 266.91,471.27 268.36,472.00 282.91,472.00 283.64,477.09 295.18,476.29 295.91,482.98 320.64,482.98" fill="none" stroke="#2a2af0" stroke-width="1.1" stroke-linejoin="miter" />
<path d="M247.00 457.41v1.60 M246.20 458.21h1.60 M253.50 465.58v1.60 M252.70 466.38h1.60 M260.00 467.02v1.60 M259.20 467.82h1.60 M266.50 470.42v1.60 M265.70 471.22h1.60 M273.00 471.20v1.60 M272.20 472.00h1.60 M279.50 471.20v1.60 M278.70 472.00h1.60 M286.00 476.13v1.60 M285.20 476.93h1.60 M292.50 475.68v1.60 M291.70 476.48h1.60 M299.00 482.18v1.60 M298.20 482.98h1.60 M305.50 482.18v1.60 M304.70 482.98h1.60 M312.00 482.18v1.60 M311.20 482.98h1.60 M318.50 482.18v1.60 M317.70 482.98h1.60" stroke="#2a2af0" stroke-width="0.5" fill="none"/>
<polyline points="233.75,428.36 235.64,430.55 237.82,441.45 240.00,451.64 242.18,457.45 245.09,461.82 248.00,464.00 252.36,467.64 256.73,472.00 258.18,473.45 265.45,473.45 266.91,476.36 267.64,480.73 331.11,480.65 331.55,499.27 332.56,500.00" fill="none" stroke="#f02020" stroke-width="1.1" stroke-linejoin="miter" />
<path d="M247.00 462.45v1.60 M246.20 463.25h1.60 M253.50 467.97v1.60 M252.70 468.77h1.60 M260.00 472.65v1.60 M259.20 473.45h1.60 M266.50 474.75v1.60 M265.70 475.55h1.60 M273.00 479.92v1.60 M272.20 480.72h1.60 M279.50 479.91v1.60 M278.70 480.71h1.60 M286.00 479.91v1.60 M285.20 480.71h1.60 M292.50 479.90v1.60 M291.70 480.70h1.60 M299.00 479.89v1.60 M298.20 480.69h1.60 M305.50 479.88v1.60 M304.70 480.68h1.60 M312.00 479.88v1.60 M311.20 480.68h1.60 M318.50 479.87v1.60 M317.70 480.67h1.60 M325.00 479.86v1.60 M324.20 480.66h1.60 M331.50 496.53v1.60 M330.70 497.33h1.60" stroke="#f02020" stroke-width="0.5" fill="none"/>
<rect x="395.5" y="17.10" width="98.90" height="83.30" fill="none" stroke="#8c8c8c" stroke-width="0.8"/>
<line x1="393.4" y1="97.60" x2="395.5" y2="97.60" stroke="#8c8c8c" stroke-width="0.6"/>
<text x="0" y="0" font-size="43.00" fill="#111" stroke="#111" stroke-width="1.600" text-anchor="middle" transform="translate(391.30,97.60) rotate(-90) scale(0.1)">0.0</text>
<line x1="393.4" y1="82.14" x2="395.5" y2="82.14" stroke="#8c8c8c" stroke-width="0.6"/>
<text x="0" y="0" font-size="43.00" fill="#111" stroke="#111" stroke-width="1.600" text-anchor="middle" transform="translate(391.30,82.14) rotate(-90) scale(0.1)">0.2</text>
<line x1="393.4" y1="66.68" x2="395.5" y2="66.68" stroke="#8c8c8c" stroke-width="0.6"/>
<text x="0" y="0" font-size="43.00" fill="#111" stroke="#111" stroke-width="1.600" text-anchor="middle" transform="translate(391.30,66.68) rotate(-90) scale(0.1)">0.4</text>
<line x1="393.4" y1="51.22" x2="395.5" y2="51.22" stroke="#8c8c8c" stroke-width="0.6"/>
<text x="0" y="0" font-size="43.00" fill="#111" stroke="#111" stroke-width="1.600" text-anchor="middle" transform="translate(391.30,51.22) rotate(-90) scale(0.1)">0.6</text>
<line x1="393.4" y1="35.76" x2="395.5" y2="35.76" stroke="#8c8c8c" stroke-width="0.6"/>
<text x="0" y="0" font-size="43.00" fill="#111" stroke="#111" stroke-width="1.600" text-anchor="middle" transform="translate(391.30,35.76) rotate(-90) scale(0.1)">0.8</text>
<line x1="393.4" y1="20.30" x2="395.5" y2="20.30" stroke="#8c8c8c" stroke-width="0.6"/>
<text x="0" y="0" font-size="43.00" fill="#111" stroke="#111" stroke-width="1.600" text-anchor="middle" transform="translate(391.30,20.30) rotate(-90) scale(0.1)">1.0</text>
<line x1="399.10" y1="100.40" x2="399.10" y2="102.20" stroke="#8c8c8c" stroke-width="0.6"/>
<text x="0" y="0" transform="translate(399.10,107.00) scale(0.0957,0.1)" font-size="46.00" fill="#222" text-anchor="middle" font-weight="normal" stroke="#222" stroke-width="0.800" >0</text>
<line x1="426.29" y1="100.40" x2="426.29" y2="102.20" stroke="#8c8c8c" stroke-width="0.6"/>
<text x="0" y="0" transform="translate(426.29,107.00) scale(0.0957,0.1)" font-size="46.00" fill="#222" text-anchor="middle" font-weight="normal" stroke="#222" stroke-width="0.800" >50</text>
<line x1="453.47" y1="100.40" x2="453.47" y2="102.20" stroke="#8c8c8c" stroke-width="0.6"/>
<text x="0" y="0" transform="translate(453.47,107.00) scale(0.0957,0.1)" font-size="46.00" fill="#222" text-anchor="middle" font-weight="normal" stroke="#222" stroke-width="0.800" >100</text>
<line x1="480.66" y1="100.40" x2="480.66" y2="102.20" stroke="#8c8c8c" stroke-width="0.6"/>
<text x="0" y="0" transform="translate(480.66,107.00) scale(0.0957,0.1)" font-size="46.00" fill="#222" text-anchor="middle" font-weight="normal" stroke="#222" stroke-width="0.800" >150</text>
<text x="0" y="0" transform="translate(445.30,113.80) scale(0.0970,0.1)" font-size="46.00" fill="#111" text-anchor="middle" font-weight="normal" stroke="#111" stroke-width="0.800" >Time (months)</text>
<text x="0" y="0" font-size="43.50" fill="#111" stroke="#111" stroke-width="1.500" text-anchor="middle" transform="translate(384.00,58.75) rotate(-90) scale(0.1)">Probability</text>
<text x="0" y="0" transform="translate(445.20,11.60) scale(0.0978,0.1)" font-size="46.00" fill="#111" text-anchor="middle" font-weight="bold" stroke="#111" stroke-width="1.000" >HSPA5</text>
<text x="0" y="0" transform="translate(493.00,24.00) scale(0.0978,0.1)" font-size="46.00" fill="#111" text-anchor="end" font-weight="normal" stroke="#111" stroke-width="0.600" >HR = 1.38 (1.03 − 1.86)</text>
<text x="0" y="0" transform="translate(493.00,29.10) scale(0.0978,0.1)" font-size="46.00" fill="#111" text-anchor="end" font-weight="normal" stroke="#111" stroke-width="0.600" >logrank P = 0.033</text>
<text x="0" y="0" transform="translate(397.90,86.20) scale(0.0950,0.1)" font-size="46.00" fill="#111" text-anchor="start" font-weight="normal" stroke="#111" stroke-width="1.000" >Expression</text>
<line x1="399.6" y1="90.90" x2="407.4" y2="90.90" stroke="#666" stroke-width="0.5"/>
<line x1="399.6" y1="95.60" x2="407.4" y2="95.60" stroke="#ff5a5a" stroke-width="0.5"/>
<text x="0" y="0" transform="translate(411.20,92.40) scale(0.0935,0.1)" font-size="46.00" fill="#111" text-anchor="start" font-weight="normal" stroke="#111" stroke-width="1.000" >low</text>
<text x="0" y="0" transform="translate(411.20,97.90) scale(0.0935,0.1)" font-size="46.00" fill="#111" text-anchor="start" font-weight="normal" stroke="#111" stroke-width="1.000" >high</text>
<text x="0" y="0" transform="translate(395.40,118.00) scale(0.1000,0.1)" font-size="28.00" fill="#222" text-anchor="start" font-weight="bold" stroke="#222" stroke-width="0.200" >Number at risk</text>
<text x="0" y="0" transform="translate(389.60,121.60) scale(0.1000,0.1)" font-size="28.00" fill="#111" text-anchor="end" font-weight="normal" stroke="#111" stroke-width="1.000" >low</text>
<text x="0" y="0" transform="translate(392.00,125.10) scale(0.1000,0.1)" font-size="28.00" fill="#f00" text-anchor="end" font-weight="normal" stroke="#f00" stroke-width="1.000" >high</text>
<text x="0" y="0" transform="translate(399.10,121.60) scale(0.1000,0.1)" font-size="28.00" fill="#111" text-anchor="middle" font-weight="normal" stroke="#111" stroke-width="1.000" >190</text>
<text x="0" y="0" transform="translate(399.10,125.10) scale(0.1000,0.1)" font-size="28.00" fill="#f00" text-anchor="middle" font-weight="normal" stroke="#f00" stroke-width="1.000" >211</text>
<text x="0" y="0" transform="translate(426.29,121.60) scale(0.1000,0.1)" font-size="28.00" fill="#111" text-anchor="middle" font-weight="normal" stroke="#111" stroke-width="1.000" >21</text>
<text x="0" y="0" transform="translate(426.29,125.10) scale(0.1000,0.1)" font-size="28.00" fill="#f00" text-anchor="middle" font-weight="normal" stroke="#f00" stroke-width="1.000" >26</text>
<text x="0" y="0" transform="translate(453.47,121.60) scale(0.1000,0.1)" font-size="28.00" fill="#111" text-anchor="middle" font-weight="normal" stroke="#111" stroke-width="1.000" >5</text>
<text x="0" y="0" transform="translate(453.47,125.10) scale(0.1000,0.1)" font-size="28.00" fill="#f00" text-anchor="middle" font-weight="normal" stroke="#f00" stroke-width="1.000" >7</text>
<text x="0" y="0" transform="translate(480.66,121.60) scale(0.1000,0.1)" font-size="28.00" fill="#111" text-anchor="middle" font-weight="normal" stroke="#111" stroke-width="1.000" >1</text>
<text x="0" y="0" transform="translate(480.66,125.10) scale(0.1000,0.1)" font-size="28.00" fill="#f00" text-anchor="middle" font-weight="normal" stroke="#f00" stroke-width="1.000" >2</text>
<polyline points="399.33,20.09 401.18,23.18 402.73,29.36 405.05,38.64 407.36,46.37 410.46,54.09 413.55,59.50 416.64,62.60 418.96,65.69 425.91,66.15 431.32,67.23 433.64,68.78 441.37,69.24 451.23,69.86 452.00,73.41 453.55,75.42 491.41,74.96" fill="none" stroke="#f01010" stroke-width="0.75" stroke-linejoin="miter" />
<polyline points="399.33,20.09 401.18,23.18 402.73,29.36 405.05,38.64 407.36,46.37 410.46,54.09 413.00,58.55" fill="none" stroke="#f01010" stroke-width="1.3" stroke-linejoin="miter" />
<path d="M413.00 57.80v1.50 M419.00 64.94v1.50 M425.00 65.34v1.50 M431.00 66.42v1.50 M437.00 68.23v1.50 M443.00 68.59v1.50 M449.00 68.97v1.50 M455.00 74.66v1.50 M461.00 74.58v1.50 M467.00 74.51v1.50 M473.00 74.44v1.50 M479.00 74.36v1.50 M485.00 74.29v1.50 M491.00 74.21v1.50" stroke="#f01010" stroke-width="0.6" fill="none"/>
<polyline points="399.33,20.09 401.96,24.73 404.27,29.36 407.36,35.55 409.68,41.73 412.00,47.14 415.09,50.23 418.18,53.32 421.28,55.33 424.37,57.19 427.46,61.05 430.55,61.82 433.64,64.14 435.96,66.46 441.37,67.23 446.59,67.23 447.36,69.55 457.41,70.32 458.18,75.42 490.64,75.42" fill="none" stroke="#111" stroke-width="0.75" stroke-linejoin="miter" />
<polyline points="399.33,20.09 401.96,24.73 404.27,29.36 407.36,35.55 409.68,41.73 412.00,47.14 415.09,50.23 418.18,53.32 421.28,55.33 424.00,56.97" fill="none" stroke="#111" stroke-width="1.1" stroke-linejoin="miter" />
<path d="M424.00 56.22v1.50 M430.00 60.94v1.50 M436.00 65.72v1.50 M442.00 66.48v1.50 M448.00 68.85v1.50 M454.00 69.31v1.50 M460.00 74.67v1.50 M466.00 74.67v1.50 M472.00 74.67v1.50 M478.00 74.67v1.50 M484.00 74.67v1.50 M490.00 74.67v1.50" stroke="#111" stroke-width="0.6" fill="none"/>
<rect x="395.5" y="148.20" width="98.90" height="83.30" fill="none" stroke="#8c8c8c" stroke-width="0.8"/>
<line x1="393.4" y1="228.70" x2="395.5" y2="228.70" stroke="#8c8c8c" stroke-width="0.6"/>
<text x="0" y="0" font-size="43.00" fill="#111" stroke="#111" stroke-width="1.600" text-anchor="middle" transform="translate(391.30,228.70) rotate(-90) scale(0.1)">0.0</text>
<line x1="393.4" y1="213.24" x2="395.5" y2="213.24" stroke="#8c8c8c" stroke-width="0.6"/>
<text x="0" y="0" font-size="43.00" fill="#111" stroke="#111" stroke-width="1.600" text-anchor="middle" transform="translate(391.30,213.24) rotate(-90) scale(0.1)">0.2</text>
<line x1="393.4" y1="197.78" x2="395.5" y2="197.78" stroke="#8c8c8c" stroke-width="0.6"/>
<text x="0" y="0" font-size="43.00" fill="#111" stroke="#111" stroke-width="1.600" text-anchor="middle" transform="translate(391.30,197.78) rotate(-90) scale(0.1)">0.4</text>
<line x1="393.4" y1="182.32" x2="395.5" y2="182.32" stroke="#8c8c8c" stroke-width="0.6"/>
<text x="0" y="0" font-size="43.00" fill="#111" stroke="#111" stroke-width="1.600" text-anchor="middle" transform="translate(391.30,182.32) rotate(-90) scale(0.1)">0.6</text>
<line x1="393.4" y1="166.86" x2="395.5" y2="166.86" stroke="#8c8c8c" stroke-width="0.6"/>
<text x="0" y="0" font-size="43.00" fill="#111" stroke="#111" stroke-width="1.600" text-anchor="middle" transform="translate(391.30,166.86) rotate(-90) scale(0.1)">0.8</text>
<line x1="393.4" y1="151.40" x2="395.5" y2="151.40" stroke="#8c8c8c" stroke-width="0.6"/>
<text x="0" y="0" font-size="43.00" fill="#111" stroke="#111" stroke-width="1.600" text-anchor="middle" transform="translate(391.30,151.40) rotate(-90) scale(0.1)">1.0</text>
<line x1="399.10" y1="231.50" x2="399.10" y2="233.30" stroke="#8c8c8c" stroke-width="0.6"/>
<text x="0" y="0" transform="translate(399.10,238.10) scale(0.0957,0.1)" font-size="46.00" fill="#222" text-anchor="middle" font-weight="normal" stroke="#222" stroke-width="0.800" >0</text>
<line x1="426.29" y1="231.50" x2="426.29" y2="233.30" stroke="#8c8c8c" stroke-width="0.6"/>
<text x="0" y="0" transform="translate(426.29,238.10) scale(0.0957,0.1)" font-size="46.00" fill="#222" text-anchor="middle" font-weight="normal" stroke="#222" stroke-width="0.800" >50</text>
<line x1="453.47" y1="231.50" x2="453.47" y2="233.30" stroke="#8c8c8c" stroke-width="0.6"/>
<text x="0" y="0" transform="translate(453.47,238.10) scale(0.0957,0.1)" font-size="46.00" fill="#222" text-anchor="middle" font-weight="normal" stroke="#222" stroke-width="0.800" >100</text>
<line x1="480.66" y1="231.50" x2="480.66" y2="233.30" stroke="#8c8c8c" stroke-width="0.6"/>
<text x="0" y="0" transform="translate(480.66,238.10) scale(0.0957,0.1)" font-size="46.00" fill="#222" text-anchor="middle" font-weight="normal" stroke="#222" stroke-width="0.800" >150</text>
<text x="0" y="0" transform="translate(445.30,244.90) scale(0.0970,0.1)" font-size="46.00" fill="#111" text-anchor="middle" font-weight="normal" stroke="#111" stroke-width="0.800" >Time (months)</text>
<text x="0" y="0" font-size="43.50" fill="#111" stroke="#111" stroke-width="1.500" text-anchor="middle" transform="translate(384.00,189.85) rotate(-90) scale(0.1)">Probability</text>
<text x="0" y="0" transform="translate(445.20,142.70) scale(0.0978,0.1)" font-size="46.00" fill="#111" text-anchor="middle" font-weight="bold" stroke="#111" stroke-width="1.000" >HSPA2</text>
<text x="0" y="0" transform="translate(493.00,155.10) scale(0.0978,0.1)" font-size="46.00" fill="#111" text-anchor="end" font-weight="normal" stroke="#111" stroke-width="0.600" >HR = 1.28 (0.93 − 1.76)</text>
<text x="0" y="0" transform="translate(493.00,160.20) scale(0.0978,0.1)" font-size="46.00" fill="#111" text-anchor="end" font-weight="normal" stroke="#111" stroke-width="0.600" >logrank P = 0.13</text>
<text x="0" y="0" transform="translate(397.90,217.30) scale(0.0950,0.1)" font-size="46.00" fill="#111" text-anchor="start" font-weight="normal" stroke="#111" stroke-width="1.000" >Expression</text>
<line x1="399.6" y1="222.00" x2="407.4" y2="222.00" stroke="#666" stroke-width="0.5"/>
<line x1="399.6" y1="226.70" x2="407.4" y2="226.70" stroke="#ff5a5a" stroke-width="0.5"/>
<text x="0" y="0" transform="translate(411.20,223.50) scale(0.0935,0.1)" font-size="46.00" fill="#111" text-anchor="start" font-weight="normal" stroke="#111" stroke-width="1.000" >low</text>
<text x="0" y="0" transform="translate(411.20,229.00) scale(0.0935,0.1)" font-size="46.00" fill="#111" text-anchor="start" font-weight="normal" stroke="#111" stroke-width="1.000" >high</text>
<text x="0" y="0" transform="translate(395.40,249.10) scale(0.1000,0.1)" font-size="28.00" fill="#222" text-anchor="start" font-weight="bold" stroke="#222" stroke-width="0.200" >Number at risk</text>
<text x="0" y="0" transform="translate(389.60,252.70) scale(0.1000,0.1)" font-size="28.00" fill="#111" text-anchor="end" font-weight="normal" stroke="#111" stroke-width="1.000" >low</text>
<text x="0" y="0" transform="translate(392.00,256.20) scale(0.1000,0.1)" font-size="28.00" fill="#f00" text-anchor="end" font-weight="normal" stroke="#f00" stroke-width="1.000" >high</text>
<text x="0" y="0" transform="translate(399.10,252.70) scale(0.1000,0.1)" font-size="28.00" fill="#111" text-anchor="middle" font-weight="normal" stroke="#111" stroke-width="1.000" >250</text>
<text x="0" y="0" transform="translate(399.10,256.20) scale(0.1000,0.1)" font-size="28.00" fill="#f00" text-anchor="middle" font-weight="normal" stroke="#f00" stroke-width="1.000" >150</text>
<text x="0" y="0" transform="translate(426.29,252.70) scale(0.1000,0.1)" font-size="28.00" fill="#111" text-anchor="middle" font-weight="normal" stroke="#111" stroke-width="1.000" >52</text>
<text x="0" y="0" transform="translate(426.29,256.20) scale(0.1000,0.1)" font-size="28.00" fill="#f00" text-anchor="middle" font-weight="normal" stroke="#f00" stroke-width="1.000" >14</text>
<text x="0" y="0" transform="translate(453.47,252.70) scale(0.1000,0.1)" font-size="28.00" fill="#111" text-anchor="middle" font-weight="normal" stroke="#111" stroke-width="1.000" >11</text>
<text x="0" y="0" transform="translate(453.47,256.20) scale(0.1000,0.1)" font-size="28.00" fill="#f00" text-anchor="middle" font-weight="normal" stroke="#f00" stroke-width="1.000" >1</text>
<text x="0" y="0" transform="translate(480.66,252.70) scale(0.1000,0.1)" font-size="28.00" fill="#111" text-anchor="middle" font-weight="normal" stroke="#111" stroke-width="1.000" >3</text>
<text x="0" y="0" transform="translate(480.66,256.20) scale(0.1000,0.1)" font-size="28.00" fill="#f00" text-anchor="middle" font-weight="normal" stroke="#f00" stroke-width="1.000" >0</text>
<polyline points="399.33,151.09 402.73,159.59 405.82,168.87 408.91,176.59 410.46,183.55 412.77,188.19 414.32,192.82 416.64,196.69 419.73,197.46 423.59,198.23 425.91,201.32 428.23,203.64 435.19,203.64 435.96,206.73 449.68,206.73 450.46,211.37 454.32,211.37" fill="none" stroke="#f01010" stroke-width="0.75" stroke-linejoin="miter" />
<polyline points="399.33,151.09 402.73,159.59 405.82,168.87 408.91,176.59 410.46,183.55 412.77,188.19 414.32,192.82 416.00,195.62" fill="none" stroke="#f01010" stroke-width="1.3" stroke-linejoin="miter" />
<path d="M416.00 194.87v1.50 M422.00 197.16v1.50 M428.00 202.66v1.50 M434.00 202.89v1.50 M440.00 205.98v1.50 M446.00 205.98v1.50 M452.00 210.62v1.50" stroke="#f01010" stroke-width="0.6" fill="none"/>
<polyline points="399.33,151.09 402.73,158.82 405.82,168.09 408.91,175.82 411.23,182.00 415.09,185.09 419.73,188.96 425.91,191.28 429.00,192.05 432.87,194.37 435.96,196.69 444.46,196.69 446.59,196.69 447.36,198.23 452.00,199.00 452.77,200.55 456.64,201.32 457.41,203.18 491.41,203.18" fill="none" stroke="#111" stroke-width="0.75" stroke-linejoin="miter" />
<polyline points="399.33,151.09 402.73,158.82 405.82,168.09 408.91,175.82 411.23,182.00 415.09,185.09 419.73,188.96 425.91,191.28 429.00,192.05 432.87,194.37 435.96,196.69 436.00,196.69" fill="none" stroke="#111" stroke-width="1.1" stroke-linejoin="miter" />
<path d="M436.00 195.94v1.50 M442.00 195.94v1.50 M448.00 197.59v1.50 M454.00 200.05v1.50 M460.00 202.43v1.50 M466.00 202.43v1.50 M472.00 202.43v1.50 M478.00 202.43v1.50 M484.00 202.43v1.50 M490.00 202.43v1.50" stroke="#111" stroke-width="0.6" fill="none"/>
<rect x="395.5" y="295.20" width="98.90" height="83.30" fill="none" stroke="#8c8c8c" stroke-width="0.8"/>
<line x1="393.4" y1="375.70" x2="395.5" y2="375.70" stroke="#8c8c8c" stroke-width="0.6"/>
<text x="0" y="0" font-size="43.00" fill="#111" stroke="#111" stroke-width="1.600" text-anchor="middle" transform="translate(391.30,375.70) rotate(-90) scale(0.1)">0.0</text>
<line x1="393.4" y1="360.24" x2="395.5" y2="360.24" stroke="#8c8c8c" stroke-width="0.6"/>
<text x="0" y="0" font-size="43.00" fill="#111" stroke="#111" stroke-width="1.600" text-anchor="middle" transform="translate(391.30,360.24) rotate(-90) scale(0.1)">0.2</text>
<line x1="393.4" y1="344.78" x2="395.5" y2="344.78" stroke="#8c8c8c" stroke-width="0.6"/>
<text x="0" y="0" font-size="43.00" fill="#111" stroke="#111" stroke-width="1.600" text-anchor="middle" transform="translate(391.30,344.78) rotate(-90) scale(0.1)">0.4</text>
<line x1="393.4" y1="329.32" x2="395.5" y2="329.32" stroke="#8c8c8c" stroke-width="0.6"/>
<text x="0" y="0" font-size="43.00" fill="#111" stroke="#111" stroke-width="1.600" text-anchor="middle" transform="translate(391.30,329.32) rotate(-90) scale(0.1)">0.6</text>
<line x1="393.4" y1="313.86" x2="395.5" y2="313.86" stroke="#8c8c8c" stroke-width="0.6"/>
<text x="0" y="0" font-size="43.00" fill="#111" stroke="#111" stroke-width="1.600" text-anchor="middle" transform="translate(391.30,313.86) rotate(-90) scale(0.1)">0.8</text>
<line x1="393.4" y1="298.40" x2="395.5" y2="298.40" stroke="#8c8c8c" stroke-width="0.6"/>
<text x="0" y="0" font-size="43.00" fill="#111" stroke="#111" stroke-width="1.600" text-anchor="middle" transform="translate(391.30,298.40) rotate(-90) scale(0.1)">1.0</text>
<line x1="399.10" y1="378.50" x2="399.10" y2="380.30" stroke="#8c8c8c" stroke-width="0.6"/>
<text x="0" y="0" transform="translate(399.10,385.10) scale(0.0957,0.1)" font-size="46.00" fill="#222" text-anchor="middle" font-weight="normal" stroke="#222" stroke-width="0.800" >0</text>
<line x1="426.29" y1="378.50" x2="426.29" y2="380.30" stroke="#8c8c8c" stroke-width="0.6"/>
<text x="0" y="0" transform="translate(426.29,385.10) scale(0.0957,0.1)" font-size="46.00" fill="#222" text-anchor="middle" font-weight="normal" stroke="#222" stroke-width="0.800" >50</text>
<line x1="453.47" y1="378.50" x2="453.47" y2="380.30" stroke="#8c8c8c" stroke-width="0.6"/>
<text x="0" y="0" transform="translate(453.47,385.10) scale(0.0957,0.1)" font-size="46.00" fill="#222" text-anchor="middle" font-weight="normal" stroke="#222" stroke-width="0.800" >100</text>
<line x1="480.66" y1="378.50" x2="480.66" y2="380.30" stroke="#8c8c8c" stroke-width="0.6"/>
<text x="0" y="0" transform="translate(480.66,385.10) scale(0.0957,0.1)" font-size="46.00" fill="#222" text-anchor="middle" font-weight="normal" stroke="#222" stroke-width="0.800" >150</text>
<text x="0" y="0" transform="translate(445.30,391.90) scale(0.0970,0.1)" font-size="46.00" fill="#111" text-anchor="middle" font-weight="normal" stroke="#111" stroke-width="0.800" >Time (months)</text>
<text x="0" y="0" font-size="43.50" fill="#111" stroke="#111" stroke-width="1.500" text-anchor="middle" transform="translate(384.00,336.85) rotate(-90) scale(0.1)">Probability</text>
<text x="0" y="0" transform="translate(445.20,289.70) scale(0.0978,0.1)" font-size="46.00" fill="#111" text-anchor="middle" font-weight="bold" stroke="#111" stroke-width="1.000" >HSPA5</text>
<text x="0" y="0" transform="translate(493.00,302.10) scale(0.0978,0.1)" font-size="46.00" fill="#111" text-anchor="end" font-weight="normal" stroke="#111" stroke-width="0.600" >HR = 2.05 (0.99 − 4.23)</text>
<text x="0" y="0" transform="translate(493.00,307.20) scale(0.0978,0.1)" font-size="46.00" fill="#111" text-anchor="end" font-weight="normal" stroke="#111" stroke-width="0.600" >logrank P = 0.047</text>
<text x="0" y="0" transform="translate(397.90,364.30) scale(0.0950,0.1)" font-size="46.00" fill="#111" text-anchor="start" font-weight="normal" stroke="#111" stroke-width="1.000" >Expression</text>
<line x1="399.6" y1="369.00" x2="407.4" y2="369.00" stroke="#666" stroke-width="0.5"/>
<line x1="399.6" y1="373.70" x2="407.4" y2="373.70" stroke="#ff5a5a" stroke-width="0.5"/>
<text x="0" y="0" transform="translate(411.20,370.50) scale(0.0935,0.1)" font-size="46.00" fill="#111" text-anchor="start" font-weight="normal" stroke="#111" stroke-width="1.000" >low</text>
<text x="0" y="0" transform="translate(411.20,376.00) scale(0.0935,0.1)" font-size="46.00" fill="#111" text-anchor="start" font-weight="normal" stroke="#111" stroke-width="1.000" >high</text>
<text x="0" y="0" transform="translate(395.40,396.10) scale(0.1000,0.1)" font-size="28.00" fill="#222" text-anchor="start" font-weight="bold" stroke="#222" stroke-width="0.200" >Number at risk</text>
<text x="0" y="0" transform="translate(389.60,399.70) scale(0.1000,0.1)" font-size="28.00" fill="#111" text-anchor="end" font-weight="normal" stroke="#111" stroke-width="1.000" >low</text>
<text x="0" y="0" transform="translate(392.00,403.20) scale(0.1000,0.1)" font-size="28.00" fill="#f00" text-anchor="end" font-weight="normal" stroke="#f00" stroke-width="1.000" >high</text>
<text x="0" y="0" transform="translate(399.10,399.70) scale(0.1000,0.1)" font-size="28.00" fill="#111" text-anchor="middle" font-weight="normal" stroke="#111" stroke-width="1.000" >104</text>
<text x="0" y="0" transform="translate(399.10,403.20) scale(0.1000,0.1)" font-size="28.00" fill="#f00" text-anchor="middle" font-weight="normal" stroke="#f00" stroke-width="1.000" >83</text>
<text x="0" y="0" transform="translate(426.29,399.70) scale(0.1000,0.1)" font-size="28.00" fill="#111" text-anchor="middle" font-weight="normal" stroke="#111" stroke-width="1.000" >23</text>
<text x="0" y="0" transform="translate(426.29,403.20) scale(0.1000,0.1)" font-size="28.00" fill="#f00" text-anchor="middle" font-weight="normal" stroke="#f00" stroke-width="1.000" >16</text>
<text x="0" y="0" transform="translate(453.47,399.70) scale(0.1000,0.1)" font-size="28.00" fill="#111" text-anchor="middle" font-weight="normal" stroke="#111" stroke-width="1.000" >5</text>
<text x="0" y="0" transform="translate(453.47,403.20) scale(0.1000,0.1)" font-size="28.00" fill="#f00" text-anchor="middle" font-weight="normal" stroke="#f00" stroke-width="1.000" >3</text>
<text x="0" y="0" transform="translate(480.66,399.70) scale(0.1000,0.1)" font-size="28.00" fill="#111" text-anchor="middle" font-weight="normal" stroke="#111" stroke-width="1.000" >1</text>
<text x="0" y="0" transform="translate(480.66,403.20) scale(0.1000,0.1)" font-size="28.00" fill="#f00" text-anchor="middle" font-weight="normal" stroke="#f00" stroke-width="1.000" >0</text>
<polyline points="399.33,298.40 401.96,301.18 405.82,305.82 408.91,308.91 410.46,310.46 412.00,313.55 412.77,318.18 415.09,318.96 415.87,322.82 427.46,323.28 429.78,327.46 430.55,328.69 479.82,328.69" fill="none" stroke="#f01010" stroke-width="0.75" stroke-linejoin="miter" />
<polyline points="399.33,298.40 401.96,301.18 405.82,305.82 408.91,308.91 410.46,310.46 412.00,313.55 412.77,318.18 413.00,318.26" fill="none" stroke="#f01010" stroke-width="1.3" stroke-linejoin="miter" />
<path d="M413.00 317.51v1.50 M419.00 322.20v1.50 M425.00 322.44v1.50 M431.00 327.94v1.50 M437.00 327.94v1.50 M443.00 327.94v1.50 M449.00 327.94v1.50 M455.00 327.94v1.50 M461.00 327.94v1.50 M467.00 327.94v1.50 M473.00 327.94v1.50 M479.00 327.94v1.50" stroke="#f01010" stroke-width="0.6" fill="none"/>
<polyline points="399.33,298.40 402.73,300.41 405.82,303.50 408.91,304.27 412.00,305.05 415.09,306.59 418.18,309.68 429.78,310.46 430.55,313.55 455.87,313.86 456.33,326.38 491.41,326.38" fill="none" stroke="#111" stroke-width="0.75" stroke-linejoin="miter" />
<polyline points="399.33,298.40 402.73,300.41 405.82,303.50 408.91,304.27 412.00,305.05 415.09,306.59 416.00,307.50" fill="none" stroke="#111" stroke-width="1.1" stroke-linejoin="miter" />
<path d="M416.00 306.75v1.50 M422.00 309.19v1.50 M428.00 309.59v1.50 M434.00 312.84v1.50 M440.00 312.91v1.50 M446.00 312.99v1.50 M452.00 313.06v1.50 M458.00 325.63v1.50 M464.00 325.63v1.50 M470.00 325.63v1.50 M476.00 325.63v1.50 M482.00 325.63v1.50 M488.00 325.63v1.50" stroke="#111" stroke-width="0.6" fill="none"/>
<rect x="395.5" y="426.60" width="98.90" height="83.30" fill="none" stroke="#8c8c8c" stroke-width="0.8"/>
<line x1="393.4" y1="507.10" x2="395.5" y2="507.10" stroke="#8c8c8c" stroke-width="0.6"/>
<text x="0" y="0" font-size="43.00" fill="#111" stroke="#111" stroke-width="1.600" text-anchor="middle" transform="translate(391.30,507.10) rotate(-90) scale(0.1)">0.0</text>
<line x1="393.4" y1="491.64" x2="395.5" y2="491.64" stroke="#8c8c8c" stroke-width="0.6"/>
<text x="0" y="0" font-size="43.00" fill="#111" stroke="#111" stroke-width="1.600" text-anchor="middle" transform="translate(391.30,491.64) rotate(-90) scale(0.1)">0.2</text>
<line x1="393.4" y1="476.18" x2="395.5" y2="476.18" stroke="#8c8c8c" stroke-width="0.6"/>
<text x="0" y="0" font-size="43.00" fill="#111" stroke="#111" stroke-width="1.600" text-anchor="middle" transform="translate(391.30,476.18) rotate(-90) scale(0.1)">0.4</text>
<line x1="393.4" y1="460.72" x2="395.5" y2="460.72" stroke="#8c8c8c" stroke-width="0.6"/>
<text x="0" y="0" font-size="43.00" fill="#111" stroke="#111" stroke-width="1.600" text-anchor="middle" transform="translate(391.30,460.72) rotate(-90) scale(0.1)">0.6</text>
<line x1="393.4" y1="445.26" x2="395.5" y2="445.26" stroke="#8c8c8c" stroke-width="0.6"/>
<text x="0" y="0" font-size="43.00" fill="#111" stroke="#111" stroke-width="1.600" text-anchor="middle" transform="translate(391.30,445.26) rotate(-90) scale(0.1)">0.8</text>
<line x1="393.4" y1="429.80" x2="395.5" y2="429.80" stroke="#8c8c8c" stroke-width="0.6"/>
<text x="0" y="0" font-size="43.00" fill="#111" stroke="#111" stroke-width="1.600" text-anchor="middle" transform="translate(391.30,429.80) rotate(-90) scale(0.1)">1.0</text>
<line x1="399.10" y1="509.90" x2="399.10" y2="511.70" stroke="#8c8c8c" stroke-width="0.6"/>
<text x="0" y="0" transform="translate(399.10,516.50) scale(0.0957,0.1)" font-size="46.00" fill="#222" text-anchor="middle" font-weight="normal" stroke="#222" stroke-width="0.800" >0</text>
<line x1="426.29" y1="509.90" x2="426.29" y2="511.70" stroke="#8c8c8c" stroke-width="0.6"/>
<text x="0" y="0" transform="translate(426.29,516.50) scale(0.0957,0.1)" font-size="46.00" fill="#222" text-anchor="middle" font-weight="normal" stroke="#222" stroke-width="0.800" >50</text>
<line x1="453.47" y1="509.90" x2="453.47" y2="511.70" stroke="#8c8c8c" stroke-width="0.6"/>
<text x="0" y="0" transform="translate(453.47,516.50) scale(0.0957,0.1)" font-size="46.00" fill="#222" text-anchor="middle" font-weight="normal" stroke="#222" stroke-width="0.800" >100</text>
<line x1="480.66" y1="509.90" x2="480.66" y2="511.70" stroke="#8c8c8c" stroke-width="0.6"/>
<text x="0" y="0" transform="translate(480.66,516.50) scale(0.0957,0.1)" font-size="46.00" fill="#222" text-anchor="middle" font-weight="normal" stroke="#222" stroke-width="0.800" >150</text>
<text x="0" y="0" transform="translate(445.30,523.30) scale(0.0970,0.1)" font-size="46.00" fill="#111" text-anchor="middle" font-weight="normal" stroke="#111" stroke-width="0.800" >Time (months)</text>
<text x="0" y="0" font-size="43.50" fill="#111" stroke="#111" stroke-width="1.500" text-anchor="middle" transform="translate(384.00,468.25) rotate(-90) scale(0.1)">Probability</text>
<text x="0" y="0" transform="translate(445.20,421.10) scale(0.0978,0.1)" font-size="46.00" fill="#111" text-anchor="middle" font-weight="bold" stroke="#111" stroke-width="1.000" >HSPA2</text>
<text x="0" y="0" transform="translate(493.00,433.50) scale(0.0978,0.1)" font-size="46.00" fill="#111" text-anchor="end" font-weight="normal" stroke="#111" stroke-width="0.600" >HR = 2.2 (0.98 − 4.95)</text>
<text x="0" y="0" transform="translate(493.00,438.60) scale(0.0978,0.1)" font-size="46.00" fill="#111" text-anchor="end" font-weight="normal" stroke="#111" stroke-width="0.600" >logrank P = 0.051</text>
<text x="0" y="0" transform="translate(397.90,495.70) scale(0.0950,0.1)" font-size="46.00" fill="#111" text-anchor="start" font-weight="normal" stroke="#111" stroke-width="1.000" >Expression</text>
<line x1="399.6" y1="500.40" x2="407.4" y2="500.40" stroke="#666" stroke-width="0.5"/>
<line x1="399.6" y1="505.10" x2="407.4" y2="505.10" stroke="#ff5a5a" stroke-width="0.5"/>
<text x="0" y="0" transform="translate(411.20,501.90) scale(0.0935,0.1)" font-size="46.00" fill="#111" text-anchor="start" font-weight="normal" stroke="#111" stroke-width="1.000" >low</text>
<text x="0" y="0" transform="translate(411.20,507.40) scale(0.0935,0.1)" font-size="46.00" fill="#111" text-anchor="start" font-weight="normal" stroke="#111" stroke-width="1.000" >high</text>
<text x="0" y="0" transform="translate(395.40,527.50) scale(0.1000,0.1)" font-size="28.00" fill="#222" text-anchor="start" font-weight="bold" stroke="#222" stroke-width="0.200" >Number at risk</text>
<text x="0" y="0" transform="translate(389.60,531.10) scale(0.1000,0.1)" font-size="28.00" fill="#111" text-anchor="end" font-weight="normal" stroke="#111" stroke-width="1.000" >low</text>
<text x="0" y="0" transform="translate(392.00,534.60) scale(0.1000,0.1)" font-size="28.00" fill="#f00" text-anchor="end" font-weight="normal" stroke="#f00" stroke-width="1.000" >high</text>
<text x="0" y="0" transform="translate(399.10,531.10) scale(0.1000,0.1)" font-size="28.00" fill="#111" text-anchor="middle" font-weight="normal" stroke="#111" stroke-width="1.000" >67</text>
<text x="0" y="0" transform="translate(399.10,534.60) scale(0.1000,0.1)" font-size="28.00" fill="#f00" text-anchor="middle" font-weight="normal" stroke="#f00" stroke-width="1.000" >120</text>
<text x="0" y="0" transform="translate(426.29,531.10) scale(0.1000,0.1)" font-size="28.00" fill="#111" text-anchor="middle" font-weight="normal" stroke="#111" stroke-width="1.000" >21</text>
<text x="0" y="0" transform="translate(426.29,534.60) scale(0.1000,0.1)" font-size="28.00" fill="#f00" text-anchor="middle" font-weight="normal" stroke="#f00" stroke-width="1.000" >21</text>
<text x="0" y="0" transform="translate(453.47,531.10) scale(0.1000,0.1)" font-size="28.00" fill="#111" text-anchor="middle" font-weight="normal" stroke="#111" stroke-width="1.000" >6</text>
<text x="0" y="0" transform="translate(453.47,534.60) scale(0.1000,0.1)" font-size="28.00" fill="#f00" text-anchor="middle" font-weight="normal" stroke="#f00" stroke-width="1.000" >3</text>
<text x="0" y="0" transform="translate(480.66,531.10) scale(0.1000,0.1)" font-size="28.00" fill="#111" text-anchor="middle" font-weight="normal" stroke="#111" stroke-width="1.000" >0</text>
<text x="0" y="0" transform="translate(480.66,534.60) scale(0.1000,0.1)" font-size="28.00" fill="#f00" text-anchor="middle" font-weight="normal" stroke="#f00" stroke-width="1.000" >1</text>
<polyline points="399.33,430.09 401.96,432.41 404.27,436.27 407.36,439.36 410.46,442.46 411.23,444.77 415.09,446.32 416.64,450.18 418.18,451.73 427.46,451.73 429.00,454.82 430.55,458.68 491.41,458.68" fill="none" stroke="#f01010" stroke-width="0.75" stroke-linejoin="miter" />
<polyline points="399.33,430.09 401.96,432.41 404.27,436.27 407.36,439.36 410.46,442.46 411.23,444.77 415.09,446.32 416.00,448.59" fill="none" stroke="#f01010" stroke-width="1.3" stroke-linejoin="miter" />
<path d="M416.00 447.84v1.50 M422.00 450.98v1.50 M428.00 452.06v1.50 M434.00 457.93v1.50 M440.00 457.93v1.50 M446.00 457.93v1.50 M452.00 457.93v1.50 M458.00 457.93v1.50 M464.00 457.93v1.50 M470.00 457.93v1.50 M476.00 457.93v1.50 M482.00 457.93v1.50 M488.00 457.93v1.50" stroke="#f01010" stroke-width="0.6" fill="none"/>
<polyline points="399.33,430.09 402.73,430.09 404.27,432.41 407.36,433.96 412.00,434.73 413.55,437.82 415.87,440.60 429.00,440.60 429.78,443.23 455.87,443.23 456.33,456.37 479.82,456.37" fill="none" stroke="#111" stroke-width="0.75" stroke-linejoin="miter" />
<polyline points="399.33,430.09 402.73,430.09 404.27,432.41 407.36,433.96 412.00,434.73 413.55,437.82 414.00,438.36" fill="none" stroke="#111" stroke-width="1.1" stroke-linejoin="miter" />
<path d="M414.00 437.61v1.50 M420.00 439.85v1.50 M426.00 439.85v1.50 M432.00 442.48v1.50 M438.00 442.48v1.50 M444.00 442.48v1.50 M450.00 442.48v1.50 M456.00 446.29v1.50 M462.00 455.62v1.50 M468.00 455.62v1.50 M474.00 455.62v1.50" stroke="#111" stroke-width="0.6" fill="none"/>
</svg></body></html>
